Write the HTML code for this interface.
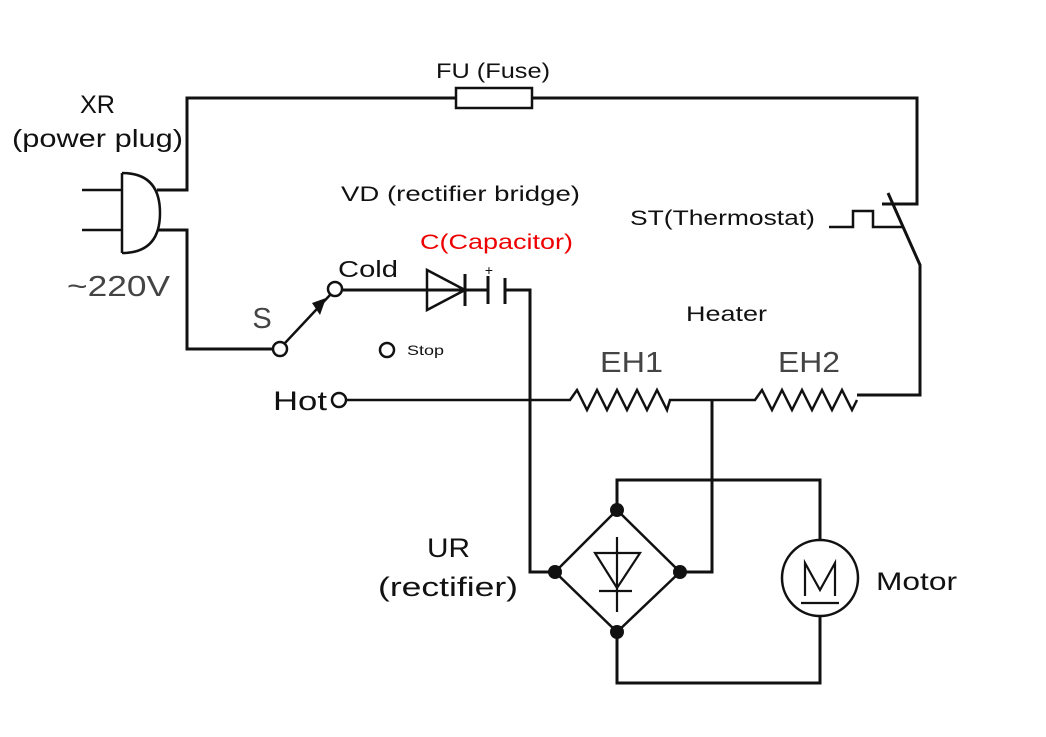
<!DOCTYPE html>
<html><head><style>body{margin:0;background:#fff}svg{display:block}text{font-family:"Liberation Sans",sans-serif}</style></head><body>
<svg width="1046" height="737" viewBox="0 0 1046 737">
<g fill="none" stroke="#111" stroke-width="3">
<path d="M157 190H187V98H456M532 98H917V204H882"/>
<rect x="456" y="88" width="76" height="20" stroke-width="2.5"/>
<path d="M888 193L920 265V395H857"/>
<path d="M829 227H853V211H873V227H902" stroke-width="2.5"/>
<path d="M82 190H122M82 230H122M122 173V253M122 173Q160 173 160 213Q160 253 122 253" stroke-width="2.5"/>
<path d="M157 230H187V349H273"/>
<path d="M285 343L330 295" stroke-width="2.5"/>
<path d="M343 290H488M505 290H530V572H555"/>
<path d="M427 270V310L465 290Z" stroke-width="2.5"/>
<path d="M465 274V306M488 276V304M505 278V304" stroke-width="3"/>
<path d="M346 400H570L577 390L587 410L597 390L607 410L617 390L627 410L637 390L647 410L657 390L667 410L670 400H755L762 390L772 410L782 390L792 410L802 390L812 410L822 390L832 410L842 390L852 410L857 400" stroke-width="2.5"/>
<path d="M712 400V572H680"/>
<path d="M617 510L680 572L617 632L555 572Z" stroke-width="2.5"/>
<path d="M617 510V480H820V540M820 616V683H617V632"/>
<path d="M595 553H640L617 588Z" stroke-width="2.2"/>
<path d="M599 591H632M617 537V612" stroke-width="2.2"/>
<circle cx="820" cy="578" r="38" stroke-width="2.5"/>
<path d="M805 596V563L820 590L835 563V596M801 603H839" stroke-width="2.2"/>
<circle cx="280" cy="349" r="7" fill="#fff" stroke-width="2.5"/>
<circle cx="335" cy="289" r="7" fill="#fff" stroke-width="2.5"/>
<circle cx="387" cy="350" r="7" fill="#fff" stroke-width="2.5"/>
<circle cx="339" cy="400" r="7" fill="#fff" stroke-width="2.5"/>
</g>
<path d="M312 303L326 298L320 315Z" fill="#111"/>
<g fill="#111"><circle cx="617" cy="510" r="7"/><circle cx="555" cy="572" r="7"/><circle cx="680" cy="572" r="7"/><circle cx="617" cy="632" r="7"/></g>
<g fill="#111" font-size="21" lengthAdjust="spacingAndGlyphs">
<text x="436" y="78" textLength="114" lengthAdjust="spacingAndGlyphs">FU (Fuse)</text>
<text x="80" y="113" font-size="25" textLength="35" lengthAdjust="spacingAndGlyphs">XR</text>
<text x="12" y="147" font-size="25" textLength="171" lengthAdjust="spacingAndGlyphs">(power plug)</text>
<text x="341" y="201" textLength="239" lengthAdjust="spacingAndGlyphs">VD (rectifier bridge)</text>
<text x="420" y="249" fill="#e00" textLength="153" lengthAdjust="spacingAndGlyphs">C(Capacitor)</text>
<text x="338" y="277" font-size="23" textLength="60" lengthAdjust="spacingAndGlyphs">Cold</text>
<text x="407" y="355" font-size="14" textLength="37" lengthAdjust="spacingAndGlyphs">Stop</text>
<text x="273" y="410" font-size="27" textLength="54" lengthAdjust="spacingAndGlyphs">Hot</text>
<text x="630" y="225" textLength="185" lengthAdjust="spacingAndGlyphs">ST(Thermostat)</text>
<text x="686" y="321" textLength="81" lengthAdjust="spacingAndGlyphs">Heater</text>
<text x="427" y="557" font-size="27" textLength="43" lengthAdjust="spacingAndGlyphs">UR</text>
<text x="378" y="596" font-size="27" textLength="140" lengthAdjust="spacingAndGlyphs">(rectifier)</text>
<text x="876" y="590" font-size="25" textLength="81" lengthAdjust="spacingAndGlyphs">Motor</text>
<text x="489" y="275" text-anchor="middle" font-size="14">+</text>
</g>
<g fill="#444" font-size="29">
<text x="67" y="296" textLength="103" lengthAdjust="spacingAndGlyphs">~220V</text>
<text x="262" y="328" text-anchor="middle">S</text>
<text x="600" y="372" textLength="63" lengthAdjust="spacingAndGlyphs">EH1</text>
<text x="778" y="372" textLength="62" lengthAdjust="spacingAndGlyphs">EH2</text>
</g>
</svg>
</body></html>
